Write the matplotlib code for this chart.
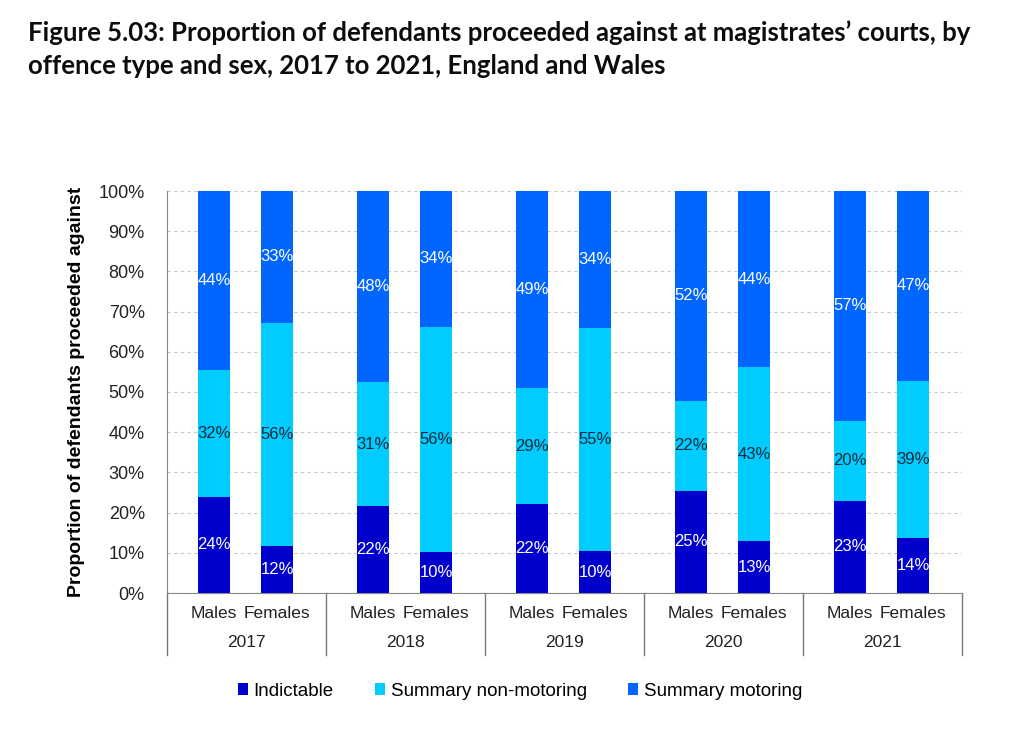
import matplotlib.pyplot as plt
import numpy as np

years = ["2017", "2018", "2019", "2020", "2021"]
sexes = ["Males", "Females"]
series = ["Indictable", "Summary non-motoring", "Summary motoring"]

# values (%) per bar: Males 2017, Females 2017, Males 2018, ...
indictable = [23.9, 11.7, 21.6, 10.2, 22.1, 10.4, 25.4, 12.9, 22.9, 13.6]
non_motoring = [31.6, 55.5, 30.9, 56.0, 28.9, 55.4, 22.4, 43.3, 19.9, 39.2]
motoring = [44.5, 32.8, 47.5, 33.8, 49.0, 34.2, 52.2, 43.8, 57.2, 47.2]

colors = ["#0000CC", "#00CCFF", "#0066FF"]
label_colors = ["white", "#0a2a3a", "white"]

fig = plt.figure(figsize=(10.24, 7.52), dpi=100)
ax = fig.add_axes([167 / 1024, 1 - 593 / 752, 795 / 1024, 402 / 752])

# bar positions inside each year group (group width = 1)
offsets = [47 / 159, 110 / 159]
xpos = np.array([g + offsets[s] for g in range(len(years)) for s in range(2)])
width = 32 / 159

bottom = np.zeros(len(xpos))
for vals, col, lcol, name in zip([indictable, non_motoring, motoring], colors, label_colors, series):
    vals = np.array(vals)
    ax.bar(xpos, vals, width, bottom=bottom, color=col, label=name, zorder=3)
    for x, b, v in zip(xpos, bottom, vals):
        ax.text(x, b + v / 2, f"{v:.0f}%", ha="center", va="center", color=lcol,
                fontsize=12, family="Liberation Sans", zorder=4)
    bottom += vals

ax.set_xlim(0, len(years))
ax.set_ylim(0, 100)
ax.set_yticks(np.arange(0, 101, 10))
ax.set_yticklabels([f"{t}%" for t in range(0, 101, 10)], fontsize=13, family="Liberation Sans", color="#222222")
ax.set_xticks([])
ax.tick_params(axis="y", length=0, pad=16)
ax.grid(axis="y", color="#c8c8c8", linestyle=(0, (3, 3)), linewidth=0.8, zorder=0)
for sp in ["top", "right"]:
    ax.spines[sp].set_visible(False)
ax.spines["left"].set_color("#888888")
ax.spines["bottom"].set_color("#888888")

ax.set_ylabel("Proportion of defendants proceeded against", fontsize=14, fontweight="bold",
              family="Liberation Sans", labelpad=10)

# multi-level category axis
trans = ax.get_xaxis_transform()
for g in range(len(years) + 1):
    ax.plot([g, g], [0, -0.155], transform=trans, color="#777777", linewidth=1, clip_on=False)
for g, yr in enumerate(years):
    for s, sx in enumerate(sexes):
        ax.text(g + offsets[s], -0.052, sx, transform=trans, ha="center", va="center",
                fontsize=12.5, family="Liberation Sans", color="#222222")
    ax.text(g + 0.5, -0.124, yr, transform=trans, ha="center", va="center",
            fontsize=12.5, family="Liberation Sans", color="#222222")

handles, labels = ax.get_legend_handles_labels()
fig.legend(handles, labels, loc="center", bbox_to_anchor=(520 / 1024, 1 - 691 / 752), ncol=3,
           frameon=False, prop={"family": "Liberation Sans", "size": 13.5},
           handlelength=0.55, handleheight=0.55, handletextpad=0.3, columnspacing=2.2)

fig.text(28 / 1024, 1 - 33 / 752,
         "Figure 5.03: Proportion of defendants proceeded against at magistrates\u2019 courts, by",
         fontsize=18.5, fontweight="bold", family="Lato", va="center", color="#0b0c0c")
fig.text(28 / 1024, 1 - 66 / 752, "offence type and sex, 2017 to 2021, England and Wales",
         fontsize=18.5, fontweight="bold", family="Lato", va="center", color="#0b0c0c")

fig.savefig("out.png", dpi=100)
